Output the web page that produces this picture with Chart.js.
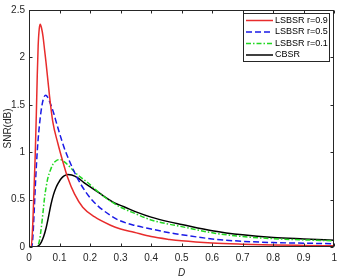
<!DOCTYPE html>
<html>
<head>
<meta charset="utf-8">
<script src="https://cdn.jsdelivr.net/npm/chart.js@4"></script>
<style>
html,body{margin:0;padding:0;background:#fff;}
#wrap{width:342px;height:279px;}
</style>
</head>
<body>
<div id="wrap"><canvas id="c" width="342" height="279"></canvas></div>
<script>
const seriesNames = ['LSBSR r=0.9', 'LSBSR r=0.5', 'LSBSR r=0.1', 'CBSR'];

const redD = [0.002, 0.007, 0.011, 0.016, 0.0205, 0.024, 0.027, 0.03, 0.0335, 0.037, 0.041, 0.046, 0.051, 0.056, 0.067, 0.078, 0.094, 0.111, 0.127, 0.149, 0.176, 0.214, 0.267, 0.3, 0.344, 0.4, 0.46, 0.5, 0.6, 0.7, 0.8, 0.9, 1.0];
const redV = [0, 0, 0.15, 0.56, 0.98, 1.4, 1.8, 2.12, 2.3, 2.35, 2.31, 2.22, 2.08, 1.94, 1.6, 1.32, 1.1, 0.9, 0.73, 0.56, 0.42, 0.32, 0.23, 0.19, 0.155, 0.11, 0.08, 0.065, 0.042, 0.03, 0.022, 0.017, 0.013];

const blueD = [0.002, 0.009, 0.013, 0.017, 0.021, 0.025, 0.029, 0.034, 0.039, 0.044, 0.049, 0.055, 0.061, 0.068, 0.075, 0.082, 0.089, 0.1, 0.116, 0.143, 0.17, 0.208, 0.268, 0.296, 0.344, 0.4, 0.46, 0.5, 0.6, 0.7, 0.8, 0.9, 1.0];
const blueV = [0, 0, 0.12, 0.38, 0.66, 0.9, 1.1, 1.28, 1.42, 1.52, 1.58, 1.6, 1.58, 1.53, 1.47, 1.4, 1.32, 1.2, 1.04, 0.83, 0.66, 0.49, 0.33, 0.28, 0.23, 0.19, 0.15, 0.13, 0.085, 0.06, 0.047, 0.04, 0.035];

const greenD = [0.002, 0.026, 0.031, 0.035, 0.039, 0.043, 0.047, 0.051, 0.056, 0.062, 0.07, 0.078, 0.087, 0.096, 0.105, 0.115, 0.126, 0.138, 0.16, 0.192, 0.22, 0.246, 0.3, 0.35, 0.4, 0.46, 0.5, 0.6, 0.7, 0.8, 0.9, 1.0];
const greenV = [0, 0, 0.03, 0.08, 0.17, 0.28, 0.4, 0.52, 0.63, 0.73, 0.81, 0.87, 0.905, 0.92, 0.92, 0.9, 0.87, 0.83, 0.76, 0.68, 0.6, 0.53, 0.42, 0.35, 0.285, 0.24, 0.215, 0.15, 0.11, 0.088, 0.075, 0.065];

const blackD = [0.002, 0.02, 0.03, 0.04, 0.048, 0.056, 0.064, 0.072, 0.08, 0.089, 0.097, 0.105, 0.115, 0.127, 0.14, 0.16, 0.18, 0.203, 0.23, 0.257, 0.28, 0.311, 0.355, 0.4, 0.46, 0.5, 0.6, 0.7, 0.8, 0.9, 1.0];
const blackV = [0, 0, 0.01, 0.05, 0.11, 0.2, 0.32, 0.45, 0.55, 0.63, 0.68, 0.72, 0.75, 0.765, 0.76, 0.73, 0.68, 0.63, 0.57, 0.51, 0.465, 0.425, 0.365, 0.315, 0.265, 0.238, 0.172, 0.128, 0.1, 0.085, 0.072];

const xTickLabels = ['0', '0.1', '0.2', '0.3', '0.4', '0.5', '0.6', '0.7', '0.8', '0.9', '1'];
const yTickLabels = ['0', '0.5', '1', '1.5', '2', '2.5'];

const FONT = "'Liberation Sans', Arial, sans-serif";
const AXIS = '#262626';

function pts(xs, ys) { return xs.map((x, i) => ({x: x, y: ys[i]})); }

const framePlugin = {
  id: 'frame',
  afterDatasetsDraw(chart) {
    const {ctx, chartArea: a, scales: {x, y}} = chart;
    ctx.save();
    ctx.strokeStyle = AXIS;
    ctx.lineWidth = 1;
    const L = Math.round(a.left) + 0.5, R = Math.round(a.right) - 0.5;
    const T = Math.round(a.top) + 0.5, B = Math.round(a.bottom) - 0.5;
    ctx.strokeRect(L, T, R - L, B - T);
    const tl = 3;
    ctx.beginPath();
    x.ticks.forEach(t => {
      const px = Math.round(x.getPixelForValue(t.value)) + 0.5;
      ctx.moveTo(px, B); ctx.lineTo(px, B - tl);
      ctx.moveTo(px, T); ctx.lineTo(px, T + tl);
    });
    y.ticks.forEach(t => {
      const py = Math.round(y.getPixelForValue(t.value)) + 0.5;
      ctx.moveTo(L, py); ctx.lineTo(L + tl, py);
      ctx.moveTo(R, py); ctx.lineTo(R - tl, py);
    });
    ctx.stroke();

    // legend box
    const lx = 243.5, ly = 13.5, lw = 86, lh = 48;
    ctx.fillStyle = '#fff';
    ctx.fillRect(lx, ly, lw, lh);
    ctx.strokeStyle = AXIS;
    ctx.strokeRect(lx, ly, lw, lh);
    ctx.font = '9px ' + FONT;
    ctx.textBaseline = 'middle';
    ctx.textAlign = 'left';
    chart.data.datasets.forEach((ds, i) => {
      const yy = 20.5 + i * 11.5;
      ctx.beginPath();
      ctx.strokeStyle = ds.borderColor;
      ctx.lineWidth = ds.borderWidth;
      ctx.setLineDash(ds.borderDash || []);
      ctx.moveTo(246, yy); ctx.lineTo(273, yy);
      ctx.stroke();
      ctx.setLineDash([]);
      ctx.fillStyle = '#000';
      ctx.fillText(ds.label, 275, yy);
    });
    ctx.restore();
  }
};

new Chart(document.getElementById('c'), {
  type: 'line',
  data: {
    datasets: [
      {label: seriesNames[0], data: pts(redD, redV), borderColor: '#e82c2c', borderWidth: 1.5, borderDash: []},
      {label: seriesNames[1], data: pts(blueD, blueV), borderColor: '#1a1ae6', borderWidth: 1.5, borderDash: [6, 3]},
      {label: seriesNames[2], data: pts(greenD, greenV), borderColor: '#22d822', borderWidth: 1.5, borderDash: [5, 2, 1.5, 2]},
      {label: seriesNames[3], data: pts(blackD, blackV), borderColor: '#000000', borderWidth: 1.5, borderDash: []}
    ]
  },
  options: {
    responsive: false,
    animation: false,
    layout: {padding: {top: 5, right: 6, left: 0, bottom: 0}},
    plugins: {legend: {display: false}, tooltip: {enabled: false}},
    elements: {point: {radius: 0}, line: {cubicInterpolationMode: 'monotone', fill: false}},
    scales: {
      x: {
        type: 'linear', min: 0, max: 1,
        grid: {display: false, drawTicks: false},
        border: {display: false},
        ticks: {stepSize: 0.1, padding: 5, autoSkip: false, maxRotation: 0, color: AXIS,
                font: {family: FONT, size: 10},
                callback: (v, i) => xTickLabels[i]},
        title: {display: true, text: 'D', color: AXIS, font: {family: FONT, size: 10, style: 'italic'},
                padding: {top: 0, bottom: 0}},
        afterFit: s => { s.height = 32; }
      },
      y: {
        type: 'linear', min: 0, max: 2.5,
        grid: {display: false, drawTicks: false},
        border: {display: false},
        ticks: {stepSize: 0.5, padding: 4, autoSkip: false, color: AXIS,
                font: {family: FONT, size: 10},
                callback: (v, i) => yTickLabels[i]},
        title: {display: true, text: 'SNR(dB)', color: AXIS, font: {family: FONT, size: 10},
                padding: {top: 2, bottom: 0}},
        afterFit: s => { s.width = 29; }
      }
    }
  },
  plugins: [framePlugin]
});
</script>
</body>
</html>
